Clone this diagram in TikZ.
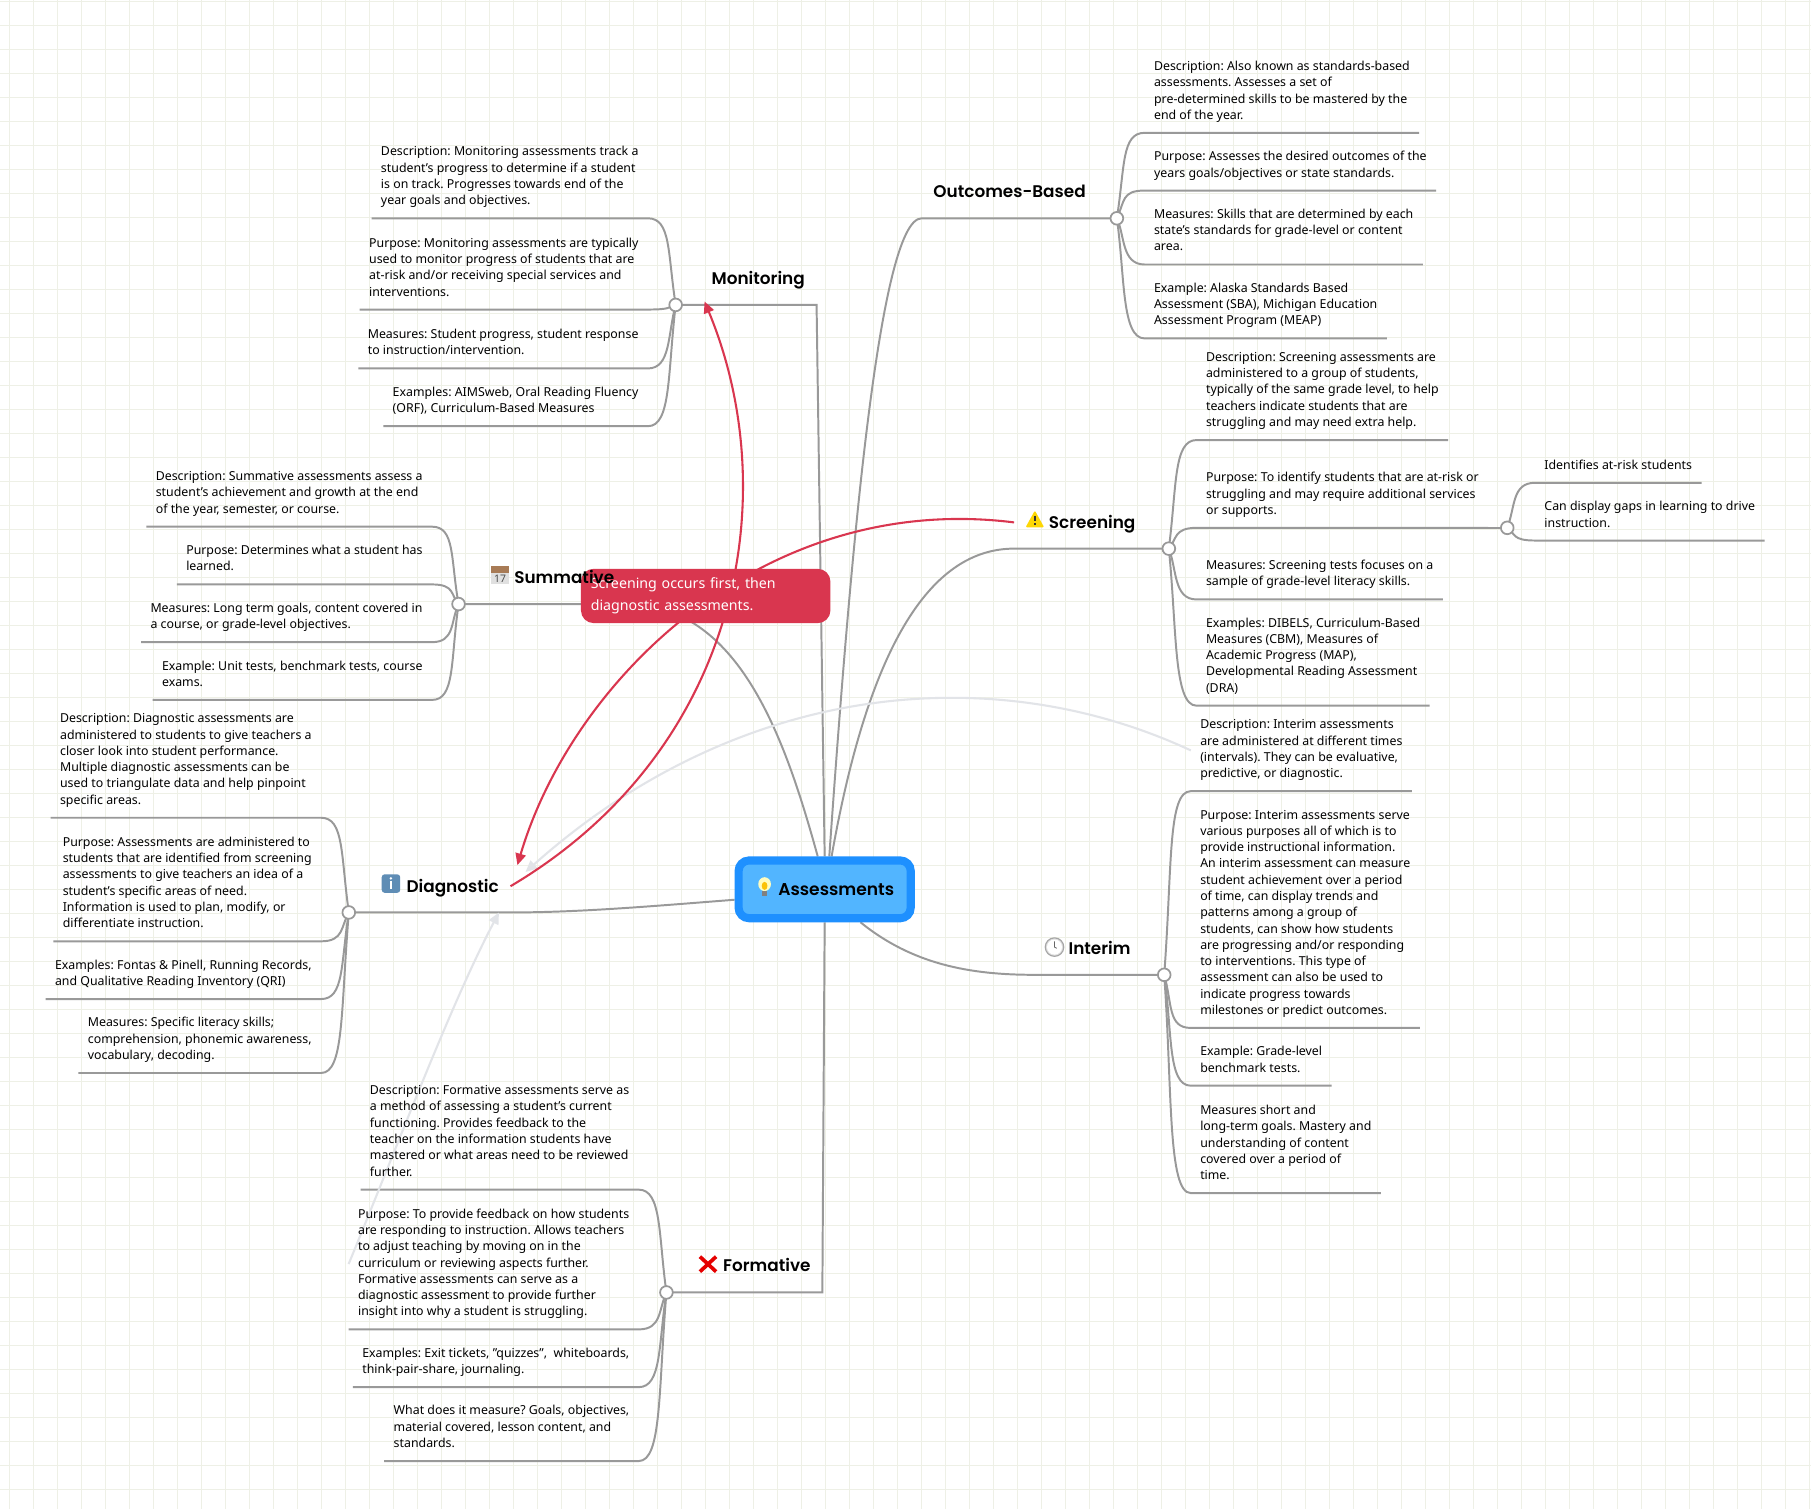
\documentclass[tikz,border=0pt]{standalone}
\usepackage{fontspec}
\setmainfont{Noto Sans}
\newfontfamily\topicfont{Poppins}[BoldFont={Poppins SemiBold}]
\usetikzlibrary{arrows.meta}
\definecolor{gridc}{HTML}{EEF0E6}
\definecolor{linkc}{HTML}{999999}
\definecolor{relc}{HTML}{D9364F}
\definecolor{lightc}{HTML}{E2E4E8}
\definecolor{rootin}{HTML}{52B5FF}
\definecolor{rootout}{HTML}{1E90FF}
\definecolor{infoc}{HTML}{5F8DB5}
\definecolor{calc}{HTML}{A87B56}
\pgfdeclarelayer{gridlayer}
\pgfdeclarelayer{links}
\pgfsetlayers{gridlayer,links,main}
\frenchspacing
\tikzset{
  leafl/.style={anchor=south east, align=left, inner xsep=8pt, inner ysep=8.5pt, text depth=3pt, font=\fontsize{10.7}{14.1}\selectfont},
  leafr/.style={leafl, anchor=south west},
  topic/.style={inner xsep=10pt, inner ysep=0pt, minimum height=45pt, text height=10pt, text depth=0pt, font=\topicfont\bfseries\fontsize{14.6}{16}\selectfont},
  junction/.style={draw=linkc, fill=white, circle, line width=1.5pt, inner sep=0pt, minimum size=11pt},
  link/.style={draw=linkc, line width=1.7pt},
  rel/.style={draw=relc, line width=1.8pt, -{Triangle[length=10pt,width=9pt]}},
  lightrel/.style={draw=lightc, line width=1.8pt, -{Triangle[length=10pt,width=9pt]}},
  bulbicon/.pic={\fill[yellow!25] (0,-2.5) ellipse (5.5 and 6); \fill[yellow!55!orange] (0,-1) ellipse (2.5 and 3.5); \fill[black!50] (-2.5,3.5) rectangle (2.5,8);},
  warnicon/.pic={\fill[yellow!75!orange, rounded corners=1pt] (-8,7) -- (0,-7.5) -- (8,7) -- cycle; \draw[black!80, line width=1.5pt] (0,-3) -- (0,2) (0,3.5) -- (0,5);},
  calicon/.pic={\fill[black!12] (-8,-8) rectangle (8,8); \fill[calc] (-8,-8) rectangle (8,-2); \node[font=\fontsize{9}{9}\selectfont, text=black!70, inner sep=0pt] (calday) at (0,3) {17};},
  infoicon/.pic={\fill[infoc, rounded corners=2.5pt] (-8,-8) rectangle (8,8); \fill[white] (-1,-2) rectangle (1,5); \fill[white] (0,-4.5) circle (1.2);},
  clockicon/.pic={\fill[black!12] (0,0) circle (8); \draw[black!35, line width=1pt] (0,0) circle (8); \fill[white] (0,0) circle (6.5); \draw[black!60, line width=.7pt] (0,-5) -- (0,0) -- (2,1);},
  crossicon/.pic={\draw[red!90!black, line width=3.2pt] (-7,-6.5) -- (7,6.5) (-7,6.5) -- (7,-6.5);},
  x=1pt, y=-1pt
}
\begin{document}
\begin{tikzpicture}
  \useasboundingbox (0,0) rectangle (1568,1306.5);
  \begin{pgfonlayer}{gridlayer}
    \fill[white] (0,0) rectangle (1568,1306.5);
    \foreach \i in {0,...,75}
      \draw[gridc, line width=1.1pt] ({8+\i*20.78},0) -- ({8+\i*20.78},1306.5);
    \foreach \i in {0,...,62}
      \draw[gridc, line width=1.1pt] (0,{1.5+\i*20.78}) -- (1568,{1.5+\i*20.78});
  \end{pgfonlayer}

  \node[fill=relc, text=white, rounded corners=11pt, inner sep=0pt, minimum width=216pt, minimum height=47pt, align=left, text width=199pt, font=\fontsize{12.3}{19}\selectfont] (note) at (611,516) {Screening occurs first, then\\diagnostic assessments.};

  \node[draw=rootout, fill=rootin, line width=7pt, rounded corners=9pt, minimum width=149pt, minimum height=50pt, inner sep=0pt] (root) at (714,770) {\topicfont\bfseries\fontsize{14.8}{16}\selectfont\hspace{20pt}Assessments};
  \pic at (662,768) {bulbicon};

  \node[topic, anchor=south west] (outc) at (798,189) {Outcomes-Based};
  \node[topic, anchor=south east] (moni) at (707,264) {Monitoring};
  \node[topic, anchor=south west] (scrn) at (878,475) {\hspace{20pt}Screening};
  \node[topic, anchor=south east] (summ) at (542,523) {\hspace{21pt}Summative};
  \node[topic, anchor=south east] (diag) at (442,790) {\hspace{20pt}Diagnostic};
  \node[topic, anchor=south west] (intr) at (895,844) {\hspace{20pt}Interim};
  \node[topic, anchor=south east] (form) at (712,1119) {\hspace{20pt}Formative};
  \pic at (896,449.5) {warnicon};
  \pic at (433,498) {calicon};
  \pic at (338.5,765) {infoicon};
  \pic at (913,820) {clockicon};
  \pic at (613,1094.5) {crossicon};

  \node[junction] (joutc) at (967,189) {};
  \node[junction] (jmoni) at (585,264) {};
  \node[junction] (jscrn) at (1012,475) {};
  \node[junction] (jsub) at (1305,457) {};
  \node[junction] (jsumm) at (397,523) {};
  \node[junction] (jdiag) at (302,790) {};
  \node[junction] (jintr) at (1008,844) {};
  \node[junction] (jform) at (577,1119) {};

  \node[leafr] (o1) at (991,115) {Description: Also known as standards-based\\assessments. Assesses a set of\\pre-determined skills to be mastered by the\\end of the year.};
  \node[leafr] (o2) at (991,165) {Purpose: Assesses the desired outcomes of the\\years goals/objectives or state standards.};
  \node[leafr] (o3) at (991,229) {Measures: Skills that are determined by each\\state's standards for grade-level or content\\area.};
  \node[leafr] (o4) at (991,293) {Example: Alaska Standards Based\\Assessment (SBA), Michigan Education\\Assessment Program (MEAP)};

  \node[leafl] (m1) at (561,189) {Description: Monitoring assessments track a\\student's progress to determine if a student\\is on track. Progresses towards end of the\\year goals and objectives.};
  \node[leafl] (m2) at (561,268) {Purpose: Monitoring assessments are typically\\used to monitor progress of students that are\\at-risk and/or receiving special services and\\interventions.};
  \node[leafl] (m3) at (561,319) {Measures: Student progress, student response\\to instruction/intervention.};
  \node[leafl] (m4) at (561,369) {Examples: AIMSweb, Oral Reading Fluency\\(ORF), Curriculum-Based Measures};

  \node[leafl] (u1) at (374,456) {Description: Summative assessments assess a\\student's achievement and growth at the end\\of the year, semester, or course.};
  \node[leafl] (u2) at (374,506) {Purpose: Determines what a student has\\learned.};
  \node[leafl] (u3) at (374,556) {Measures: Long term goals, content covered in\\a course, or grade-level objectives.};
  \node[leafl] (u4) at (374,606) {Example: Unit tests, benchmark tests, course\\exams.};

  \node[leafl] (d1) at (278,708) {Description: Diagnostic assessments are\\administered to students to give teachers a\\closer look into student performance.\\Multiple diagnostic assessments can be\\used to triangulate data and help pinpoint\\specific areas.};
  \node[leafl] (d2) at (278,815) {Purpose: Assessments are administered to\\students that are identified from screening\\assessments to give teachers an idea of a\\student's specific areas of need.\\Information is used to plan, modify, or\\differentiate instruction.};
  \node[leafl] (d3) at (278,865) {Examples: Fontas \& Pinell, Running Records,\\and Qualitative Reading Inventory (QRI)};
  \node[leafl] (d4) at (278,929) {Measures: Specific literacy skills;\\comprehension, phonemic awareness,\\vocabulary, decoding.};

  \node[leafl] (f1) at (553,1030) {Description: Formative assessments serve as\\a method of assessing a student's current\\functioning. Provides feedback to the\\teacher on the information students have\\mastered or what areas need to be reviewed\\further.};
  \node[leafl] (f2) at (553,1151) {Purpose: To provide feedback on how students\\are responding to instruction. Allows teachers\\to adjust teaching by moving on in the\\curriculum or reviewing aspects further.\\Formative assessments can serve as a\\diagnostic assessment to provide further\\insight into why a student is struggling.};
  \node[leafl] (f3) at (553,1201) {Examples: Exit tickets, "quizzes",~~whiteboards,\\think-pair-share, journaling.};
  \node[leafl] (f4) at (553,1265) {What does it measure? Goals, objectives,\\material covered, lesson content, and\\standards.};

  \node[leafr] (s1) at (1036,381) {Description: Screening assessments are\\administered to a group of students,\\typically of the same grade level, to help\\teachers indicate students that are\\struggling and may need extra help.};
  \node[leafr] (s2) at (1036,457) {Purpose: To identify students that are at-risk or\\struggling and may require additional services\\or supports.};
  \node[leafr] (s3) at (1036,519) {Measures: Screening tests focuses on a\\sample of grade-level literacy skills.};
  \node[leafr] (s4) at (1036,611) {Examples: DIBELS, Curriculum-Based\\Measures (CBM), Measures of\\Academic Progress (MAP),\\Developmental Reading Assessment\\(DRA)};
  \node[leafr] (a1) at (1329,418) {Identifies at-risk students};
  \node[leafr] (a2) at (1329,468) {Can display gaps in learning to drive\\instruction.};

  \node[leafr] (i1) at (1031,685) {Description: Interim assessments\\are administered at different times\\(intervals). They can be evaluative,\\predictive, or diagnostic.};
  \node[leafr] (i2) at (1031,890) {Purpose: Interim assessments serve\\various purposes all of which is to\\provide instructional information.\\An interim assessment can measure\\student achievement over a period\\of time, can display trends and\\patterns among a group of\\students, can show how students\\are progressing and/or responding\\to interventions. This type of\\assessment can also be used to\\indicate progress towards\\milestones or predict outcomes.};
  \node[leafr] (i3) at (1031,940) {Example: Grade-level\\benchmark tests.};
  \node[leafr] (i4) at (1031,1033) {Measures short and\\long-term goals. Mastery and\\understanding of content\\covered over a period of\\time.};

  \coordinate (monin) at (610,261);
  \coordinate (diagin) at (448,749);
  \coordinate (diagin2) at (455,755);
  \coordinate (diagline) at (432,790);

  \begin{pgfonlayer}{links}
    \draw[link] ([xshift=4pt]root.north) .. controls (735,500) and (760,189) .. (outc.south west) -- (joutc.center);
    \draw[link] (root.north) -- (moni.south east) -- (jmoni.center);
    \draw[link] ([xshift=6pt]root.north) .. controls (745,600) and (790,475) .. (scrn.south west) -- (jscrn.center);
    \draw[link] ([xshift=-6pt]root.north) .. controls (680,640) and (640,523) .. (summ.south east) -- (jsumm.center);
    \draw[link] ([yshift=-9pt]root.west) .. controls (560,785) and (500,790) .. (diag.south east) -- (jdiag.center);
    \draw[link] ([xshift=31pt]root.south) .. controls (790,835) and (840,844) .. (intr.south west) -- (jintr.center);
    \draw[link] (root.south) -- (form.south east) -- (jform.center);

    \foreach \from/\leaf/\dy in {joutc/o1/-45, joutc/o2/-15, joutc/o3/15, joutc/o4/50, jscrn/s1/-55, jscrn/s2/-8, jscrn/s3/18, jscrn/s4/70, jsub/a1/-18, jsub/a2/5, jintr/i1/-95, jintr/i2/25, jintr/i3/50, jintr/i4/100}
      \draw[link] (\from.center) .. controls +(7,\dy) and +(-20,0) .. (\leaf.south west) -- (\leaf.south east);
    \draw[link] (s2.south east) -- (jsub.center);

    \foreach \from/\leaf/\dy in {jmoni/m1/-45, jmoni/m2/2, jmoni/m3/25, jmoni/m4/60, jsumm/u1/-40, jsumm/u2/-8, jsumm/u3/15, jsumm/u4/50, jdiag/d1/-50, jdiag/d2/12, jdiag/d3/45, jdiag/d4/85, jform/f1/-50, jform/f2/15, jform/f3/45, jform/f4/85}
      \draw[link] (\from.center) .. controls +(-7,\dy) and +(20,0) .. (\leaf.south east) -- (\leaf.south west);

    \draw[lightrel] (i1.west) .. controls (860,570) and (640,590) .. (diagin2);
    \draw[lightrel] (f2.west) .. controls (345,990) and (390,870) .. (diagline);
    \draw[rel] (scrn.west) .. controls (660,425) and (495,590) .. (diagin);
    \draw[rel] (diag.east) .. controls (640,650) and (680,430) .. (monin);
  \end{pgfonlayer}
\end{tikzpicture}
\end{document}
